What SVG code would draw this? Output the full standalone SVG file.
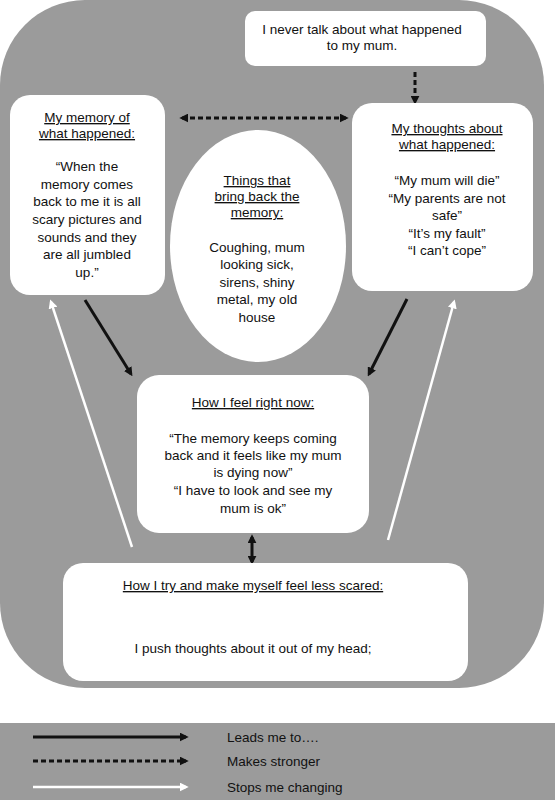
<svg xmlns="http://www.w3.org/2000/svg" width="555" height="800" viewBox="0 0 555 800">
<defs>
<style>
text{font-family:"Liberation Sans",Arial,sans-serif;font-size:13.5px;fill:#111;text-anchor:middle}
.u{text-decoration:underline}
.box{fill:#fff}
.bg{fill:#9b9b9b}
.blk{stroke:#111;stroke-width:3;fill:none}
.dash{stroke:#111;stroke-width:3;fill:none;stroke-dasharray:5 3}
.wht{stroke:#fff;stroke-width:2.5;fill:none}
.leg{text-anchor:start}
</style>
<marker id="ab" viewBox="0 0 10 10" refX="7" refY="5" markerWidth="9" markerHeight="9" markerUnits="userSpaceOnUse" orient="auto-start-reverse"><path d="M0,0 L10,5 L0,10 z" fill="#111"/></marker>
<marker id="aw" viewBox="0 0 10 10" refX="7" refY="5" markerWidth="9" markerHeight="9" markerUnits="userSpaceOnUse" orient="auto-start-reverse"><path d="M0,0 L10,5 L0,10 z" fill="#fff"/></marker>
</defs>
<rect class="bg" x="0" y="0" width="544" height="688" rx="85" ry="85"/>
<rect class="bg" x="0" y="723" width="555" height="77"/>

<g id="connectors">
<line class="dash" x1="182" y1="118" x2="346" y2="118" marker-start="url(#ab)" marker-end="url(#ab)"/>
<line class="dash" x1="415" y1="72" x2="415" y2="102" marker-end="url(#ab)"/>
<line class="blk" x1="85" y1="300" x2="131" y2="374" marker-end="url(#ab)"/>
<line class="blk" x1="407" y1="299" x2="369" y2="374" marker-end="url(#ab)"/>
<line class="blk" x1="252" y1="537" x2="252" y2="562" marker-start="url(#ab)" marker-end="url(#ab)"/>
<line class="wht" x1="132" y1="547" x2="51" y2="302" marker-end="url(#aw)"/>
<line class="wht" x1="388" y1="540" x2="454" y2="302" marker-end="url(#aw)"/>
</g>

<g id="never-talk">
<rect class="box" x="245" y="11" width="241" height="55" rx="10"/>
<text x="362" y="34">I never talk about what happened</text>
<text x="362" y="50">to my mum.</text>
</g>

<g id="memory">
<rect class="box" x="10" y="95" width="155" height="200" rx="20"/>
<text x="87" y="122" class="u">My memory of</text>
<text x="87" y="138" class="u">what happened:</text>
<text x="87" y="171">“When the</text>
<text x="87" y="189">memory comes</text>
<text x="87" y="206">back to me it is all</text>
<text x="87" y="224">scary pictures and</text>
<text x="87" y="242">sounds and they</text>
<text x="87" y="259">are all jumbled</text>
<text x="87" y="277">up.”</text>
</g>

<g id="thoughts">
<rect class="box" x="352" y="103" width="181" height="188" rx="20"/>
<text x="447" y="133" class="u">My thoughts about</text>
<text x="447" y="149" class="u">what happened:</text>
<text x="447" y="185">“My mum will die”</text>
<text x="447" y="203">“My parents are not</text>
<text x="447" y="220">safe”</text>
<text x="447" y="238">“It’s my fault”</text>
<text x="447" y="255">“I can’t cope”</text>
</g>

<g id="triggers">
<ellipse class="box" cx="258" cy="246" rx="88" ry="116"/>
<text x="257" y="185" class="u">Things that</text>
<text x="257" y="201" class="u">bring back the</text>
<text x="257" y="217" class="u">memory:</text>
<text x="257" y="252">Coughing, mum</text>
<text x="257" y="269">looking sick,</text>
<text x="257" y="287">sirens, shiny</text>
<text x="257" y="304">metal, my old</text>
<text x="257" y="322">house</text>
</g>

<g id="feel-now">
<rect class="box" x="137" y="375" width="232" height="158" rx="22"/>
<text x="253" y="407" class="u">How I feel right now:</text>
<text x="253" y="443">“The memory keeps coming</text>
<text x="253" y="460">back and it feels like my mum</text>
<text x="253" y="477">is dying now”</text>
<text x="253" y="495">“I have to look and see my</text>
<text x="253" y="513">mum is ok”</text>
</g>

<g id="less-scared">
<rect class="box" x="63" y="563" width="405" height="118" rx="20"/>
<text x="253" y="590" class="u">How I try and make myself feel less scared:</text>
<text x="253" y="653">I push thoughts about it out of my head;</text>
</g>

<g id="legend">
<line class="blk" x1="33" y1="737" x2="186" y2="737" marker-end="url(#ab)"/>
<line class="dash" x1="33" y1="761" x2="186" y2="761" marker-end="url(#ab)"/>
<line class="wht" x1="33" y1="787" x2="186" y2="787" marker-end="url(#aw)"/>
<text x="227" y="742" class="leg">Leads me to….</text>
<text x="227" y="766" class="leg">Makes stronger</text>
<text x="227" y="792" class="leg">Stops me changing</text>
</g>
</svg>
